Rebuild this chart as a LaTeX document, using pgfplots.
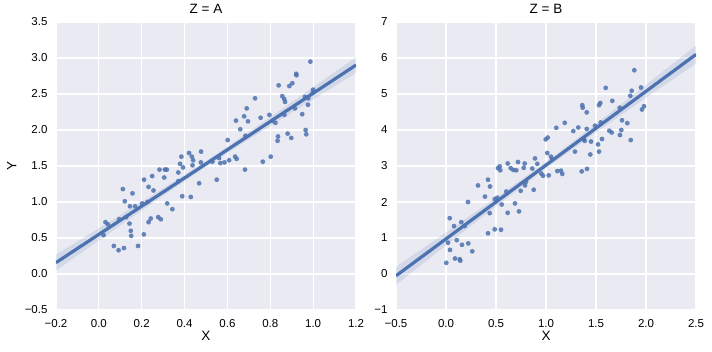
\documentclass[border=0pt]{standalone}
\usepackage{pgfplots}
\pgfplotsset{compat=1.18}
\usepackage{fontspec}
\setmainfont{Liberation Sans}
\definecolor{sbblue}{HTML}{4C72B0}
\definecolor{sbbg}{HTML}{EAEAF2}
\pgfplotsset{
  sbaxis/.style={
    scale only axis, width=300pt, height=288pt, anchor=south west,
    axis background/.style={fill=sbbg},
    axis line style={draw=none},
    tick style={draw=none},
    grid=major,
    major grid style={white, line width=1.1pt},
    axis on top=false,
    tick label style={font=\fontsize{11.5}{13}\selectfont},
    xticklabel style={yshift=-6pt},
    yticklabel style={xshift=-5pt},
    title style={font=\fontsize{13.5}{15}\selectfont, yshift=-1pt},
    every axis x label/.style={at={([yshift=-30.7pt]axis description cs:0.5,0)}, anchor=base, font=\fontsize{13.5}{15}\selectfont},
    every axis y label/.style={at={([xshift=-39.5pt]axis description cs:0,0.5)}, rotate=90, anchor=base, font=\fontsize{13.5}{15}\selectfont},
  },
  pts/.style={only marks, color=sbblue, mark=*, mark size=2.4pt, mark options={fill=sbblue, draw=sbblue, draw opacity=0, fill opacity=0.85}},
  band/.style={fill=sbblue, fill opacity=0.15, draw=none, forget plot},
  fit/.style={sbblue, line width=3.2pt, no marks},
}
\begin{document}
\begin{tikzpicture}
\path[use as bounding box] (-56pt,-42pt) rectangle (656pt,310pt);
\begin{axis}[sbaxis, at={(0pt,0pt)},
  title={Z = A}, xlabel={X}, ylabel={Y},
  xmin=-0.2, xmax=1.2, ymin=-0.5, ymax=3.5,
  xtick={-0.2,0,0.2,0.4,0.6,0.8,1.0,1.2},
  xticklabels={−0.2,0.0,0.2,0.4,0.6,0.8,1.0,1.2},
  ytick={-0.5,0,0.5,1,1.5,2,2.5,3,3.5},
  yticklabels={−0.5,0.0,0.5,1.0,1.5,2.0,2.5,3.0,3.5},
]
\addplot[pts] table {
0.022 0.54
0.031 0.72
0.042 0.69
0.070 0.39
0.092 0.33
0.095 0.76
0.112 1.18
0.117 0.36
0.121 1.01
0.127 0.79
0.143 0.70
0.145 0.94
0.149 0.60
0.151 0.53
0.157 1.12
0.169 0.94
0.183 0.39
0.202 0.98
0.210 0.55
0.211 1.31
0.227 1.00
0.232 1.21
0.232 0.72
0.242 0.77
0.249 1.36
0.255 1.16
0.277 0.79
0.283 1.45
0.289 0.76
0.305 1.34
0.308 1.45
0.317 1.45
0.319 0.98
0.343 0.90
0.371 1.41
0.379 1.53
0.385 1.63
0.389 1.08
0.393 1.48
0.371 1.29
0.421 1.68
0.429 1.07
0.434 1.63
0.437 1.51
0.440 1.58
0.468 1.26
0.477 1.70
0.476 1.55
0.530 1.56
0.550 1.31
0.561 1.61
0.567 1.54
0.586 1.55
0.601 1.86
0.608 1.58
0.636 1.63
0.640 2.13
0.643 1.60
0.660 2.01
0.678 2.19
0.682 1.45
0.684 1.92
0.690 2.30
0.696 2.12
0.729 2.44
0.755 2.17
0.765 1.56
0.796 2.21
0.802 1.63
0.810 2.13
0.824 2.10
0.834 1.85
0.836 1.91
0.839 2.62
0.856 2.47
0.865 2.43
0.869 2.39
0.881 1.95
0.889 2.61
0.898 1.89
0.903 2.65
0.866 2.21
0.915 2.30
0.921 2.78
0.922 2.76
0.949 2.22
0.962 2.46
0.965 2.00
0.968 1.94
0.976 2.35
0.977 2.44
0.987 2.95
0.998 2.52
1.000 2.56
};
\addplot[band] coordinates {
(-0.2,0.268) (0,0.634) (0.2,1.003) (0.4,1.378) (0.5,1.572) (0.6,1.770) (0.8,2.179) (1.0,2.594) (1.2,3.012)
(1.2,2.792) (1.0,2.426) (0.8,2.057) (0.6,1.682) (0.5,1.488) (0.4,1.290) (0.2,0.881) (0,0.466) (-0.2,0.048)
};
\addplot[fit] coordinates {(-0.2,0.158) (1.2,2.902)};
\end{axis}
\begin{axis}[sbaxis, at={(340pt,0pt)},
  title={Z = B}, xlabel={X},
  xmin=-0.5, xmax=2.5, ymin=-1, ymax=7,
  xtick={-0.5,0,0.5,1,1.5,2,2.5},
  xticklabels={−0.5,0.0,0.5,1.0,1.5,2.0,2.5},
  ytick={-1,0,1,2,3,4,5,6,7},
  yticklabels={−1,0,1,2,3,4,5,6,7},
]
\addplot[pts] table {
0.003 0.31
0.037 1.55
0.040 0.67
0.020 0.87
0.080 1.33
0.090 0.43
0.107 0.94
0.137 0.41
0.143 0.37
0.153 1.44
0.160 0.81
0.187 1.33
0.223 0.85
0.220 2.00
0.263 0.63
0.320 2.46
0.390 2.15
0.420 2.62
0.420 1.13
0.437 1.69
0.440 2.43
0.487 1.24
0.487 2.08
0.513 2.12
0.520 2.94
0.537 2.99
0.543 2.88
0.550 1.23
0.557 1.93
0.603 2.29
0.617 1.70
0.617 3.07
0.647 2.94
0.673 2.89
0.690 1.96
0.703 2.88
0.720 3.11
0.730 1.74
0.747 2.31
0.777 2.95
0.787 3.07
0.790 2.46
0.800 2.56
0.863 2.93
0.877 2.34
0.890 3.21
0.913 3.06
0.953 2.79
0.970 2.73
0.997 3.74
1.017 3.79
1.013 3.36
1.027 2.74
1.050 3.26
1.060 3.19
1.103 4.06
1.113 2.86
1.150 2.87
1.163 2.78
1.187 4.20
1.273 3.97
1.290 3.40
1.323 4.07
1.357 2.85
1.363 4.69
1.367 4.62
1.377 3.74
1.387 3.70
1.407 4.49
1.407 4.03
1.410 2.92
1.443 3.32
1.450 3.68
1.490 4.12
1.520 3.60
1.530 3.40
1.530 4.69
1.543 4.75
1.547 4.21
1.560 3.75
1.597 5.17
1.633 3.98
1.657 3.93
1.663 4.81
1.740 3.86
1.753 4.00
1.760 4.27
1.813 4.19
1.843 4.95
1.847 3.72
1.857 5.09
1.883 5.66
1.950 5.18
1.960 4.57
1.980 4.66
1.737 4.62
};
\addplot[band] coordinates {
(-0.5,0.20) (0,1.155) (0.5,2.119) (1.0,3.115) (1.5,4.169) (2.0,5.255) (2.5,6.35)
(2.5,5.85) (2.0,4.895) (1.5,3.931) (1.0,2.935) (0.5,1.881) (0,0.795) (-0.5,-0.30)
};
\addplot[fit] coordinates {(-0.5,-0.05) (2.5,6.10)};
\end{axis}
\end{tikzpicture}
\end{document}
